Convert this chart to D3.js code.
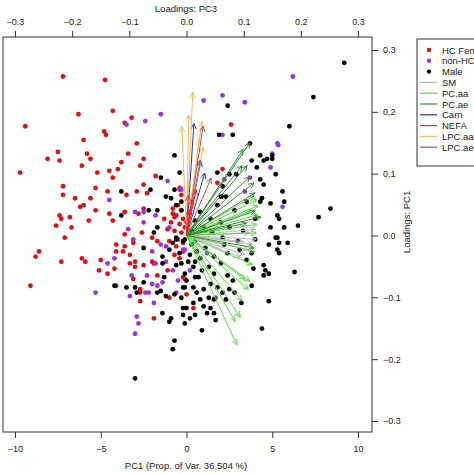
<!DOCTYPE html>
<html><head><meta charset="utf-8">
<script src="https://cdn.jsdelivr.net/npm/d3@7"></script>
<style>body{margin:0;background:#fff;overflow:hidden}text{font-family:"Liberation Sans",Arial,sans-serif}</style>
</head><body><svg id="c" width="474" height="474"></svg>
<script>
const hcFemale=[[-7.2,9.3],[-4.75,9.1],[-9.4,6.4],[-6.3,7.1],[-4.3,7.3],[-3.2,6.9],[-3.6,6.6],[-4.8,6.1],[-4.7,5.9],[-6.0,5.6],[-2.9,5.4],[-7.5,4.9],[-8.1,4.5],[-7.4,4.4],[-5.8,4.8],[-5.6,4.5],[-6.1,4.1],[-3.4,4.8],[-3.8,4.3],[-2.5,4.5],[-2.7,4.1],[-9.7,3.7],[-5.2,3.7],[-4.5,3.8],[-4.0,3.9],[-4.3,3.4],[-7.2,2.9],[-5.3,2.8],[-4.6,2.6],[-7.2,2.4],[-6.5,2.2],[-5.6,2.2],[-3.5,2.4],[-2.9,2.6],[-2.5,3.0],[-2.3,2.5],[-1.8,3.5],[-6.2,1.7],[-6.0,1.8],[-5.3,1.5],[-7.4,1.2],[-7.3,1.0],[-6.8,1.1],[-7.6,0.6],[-6.7,0.5],[-5.7,0.9],[-4.5,1.3],[-4.3,0.9],[-3.6,1.4],[-2.8,1.3],[-2.5,1.6],[-3.6,0.1],[-2.6,0.2],[-7.1,-0.1],[-2.0,-0.1],[-1.3,1.0],[-0.8,1.3],[-0.7,1.1],
[-8.6,-0.9],[-8.8,-1.2],[-7.3,-1.5],[-6.1,-1.3],[-5.9,-1.5],[-5.0,-1.4],[-5.1,-2.0],[-4.6,-2.2],[-4.2,-1.9],[-4.1,-0.5],[-4.1,-0.9],[-3.6,-0.6],[-3.7,-0.9],[-3.3,-1.1],[-3.3,-1.6],[-3.0,-1.5],[-3.0,-1.8],[-3.1,-0.4],[-2.5,-1.7],[-2.0,-1.5],[-1.9,-1.6],[-1.7,-2.3],[-3.1,-2.5],[-2.7,-3.1],[-2.7,-3.3],[-2.7,-3.8],[-1.9,-4.8],[-4.1,-2.9],[-9.1,-2.9],[-1.7,-0.3],[-1.1,-2.0],[-0.7,-1.1],[-1.0,-3.6],[-0.4,-1.3],[-0.1,-2.5],[0.0,-3.4],
[2.6,6.5],[2.1,3.9],[1.8,3.1],[0.4,-4.2],[-0.2,-2.4],
[-0.5,1.8],[-0.3,1.5],[-0.6,1.2],[-0.2,1.0],[-0.4,0.7],[-0.1,0.5],[-0.7,0.3],[-0.3,0.2],[-0.5,-0.2],[-0.2,-0.4],[-0.9,0.8],[-1.1,0.4],[0.1,1.3],[0.0,0.8],[-0.8,1.6],[-0.3,2.4],[-0.6,-0.6],[-1.0,-0.3],[-0.2,-0.9],[-0.4,2.8]];
const nonHcFemale=[[-1.5,7.1],[-2.4,6.7],[-3.5,6.5],[-1.1,3.2],[-0.4,2.7],[-0.3,2.7],[-4.5,2.1],[-3.0,1.4],[-2.5,1.4],[-1.8,1.2],[-2.5,0.8],[-3.4,0.4],[-1.0,0.5],
[-5.3,-3.3],[-4.6,-1.6],[-4.2,-1.3],[-3.1,-0.2],[-3.3,-3.5],[-3.2,-2.3],[-2.9,-4.7],[-2.8,-5.1],[-3.0,-5.7],[-2.4,-3.3],[-2.2,-3.3],[-2.3,-2.3],[-2.0,-0.9],[-1.8,-1.6],[-1.9,-3.9],[-2.0,-2.8],[-1.7,-2.9],[-1.4,-2.7],[-1.5,-0.5],[-1.2,-0.6],[-1.2,-1.5],[-0.6,-3.3],[-0.5,-2.6],[-0.1,-0.8],
[6.2,9.3],[2.1,8.2],[1.0,7.9],[3.4,7.8],[2.1,5.9],[5.3,5.4],[5.35,5.3],[5.0,4.8],[4.9,4.0],[5.6,1.7],[3.7,3.4],[2.2,3.3],[3.4,2.6],[2.1,2.3],
[1.7,-3.6],[-0.2,-0.8],[0.5,-0.3],[1.2,-1.0],[0.2,-2.0],[-0.8,-2.0]];
const male=[[-0.7,4.7],[-0.4,3.7],[-1.5,3.4],[-2.1,2.7],[-3.8,2.6],[-1.2,2.3],[-0.9,2.2],[-0.7,2.7],[-0.3,2.0],[-2.2,1.5],[-1.7,1.5],[-3.8,1.2],[-0.6,1.8],[-0.3,1.5],[-1.7,0.5],[-1.9,0.2],[-0.6,-0.1],
[-2.5,-0.7],[-1.4,-1.2],[-1.4,-1.6],[-1.0,-0.8],[-0.8,-0.4],[-0.6,-0.2],[-0.2,-0.3],[-0.3,-1.6],[-0.6,-1.7],[-1.3,-2.4],[-1.5,-3.2],[-1.7,-3.3],[-1.2,-3.5],[-0.7,-3.4],[-0.3,-3.6],[-0.1,-3.0],[-0.2,-3.0],[-4.2,-2.9],[-3.5,-3.0],[-3.0,-3.0],[-2.9,-3.3],[-2.5,-2.7],[-1.4,-4.5],[-1.0,-5.0],[-0.9,-4.8],[-0.2,-4.2],[-0.2,-4.6],[-0.1,-5.1],[-0.7,-6.1],[-0.8,-6.6],[-3.0,-8.3],[-0.1,-0.2],
[9.2,10.1],[7.4,8.1],[6.0,6.4],[2.4,7.6],[1.9,5.9],[2.7,5.9],[3.7,5.4],[3.8,4.4],[4.1,4.0],[4.3,4.7],[4.5,4.4],[4.7,4.5],[5.0,4.7],[5.0,4.5],[5.2,3.6],[2.5,3.6],[2.9,3.6],[1.8,3.7],[4.3,3.3],[4.5,3.0],[5.6,2.6],[5.7,2.0],[4.9,1.9],[4.3,2.0],[4.4,2.2],[5.3,1.2],[5.4,1.0],[7.7,1.1],[8.4,1.6],[6.5,0.6],[4.9,0.5],[5.7,0.5],[5.2,-0.1],[4.0,1.0],[2.1,2.9],[2.3,2.3],[2.0,2.3],
[4.0,-0.2],[4.8,-0.5],[5.3,-0.1],[5.4,-0.4],[5.9,-0.4],[5.3,-0.8],[5.4,-1.0],[6.3,-2.1],[4.5,-1.7],[4.6,-2.0],[4.5,-2.3],[4.8,-2.2],[3.9,-1.9],[3.8,-2.9],[4.8,-3.8],[4.4,-5.4],[3.2,-3.9],[0.9,-5.5],[1.7,-4.9],[1.6,-4.5],[1.2,-4.5],[1.4,-4.2],[1.0,-4.1],[0.5,-4.6],[0.2,-4.8],[0.8,-3.7],[0.4,-3.9],[0.0,-4.2],[0.6,-3.3],[1.3,-3.6],[1.6,-3.7],[2.3,-3.7],[2.1,-3.3],[2.5,-3.1],[1.8,-3.0],[1.4,-2.8],[1.0,-3.1],[0.4,-3.0],[0.0,-2.6],[0.5,-2.4],[-0.1,-2.2],[0.4,-1.8],[0.1,-1.5],[0.5,-1.5],[2.4,-2.3],[2.7,-2.6],[2.8,-3.3],[2.0,-1.6],[1.6,-1.2],[2.4,-1.0],[2.1,-0.1],[3.1,-0.8],[3.5,-1.4],
[0.3,-0.5],[0.6,-0.9],[0.8,-1.3],[1.1,-0.7],[0.2,-1.1],[-0.4,-1.0],[0.9,-2.0],[1.3,-1.8],[0.7,-2.4],[1.6,-2.2],[0.3,0.3],[0.5,0.9],[1.0,0.5],[1.5,0.2],[0.8,1.4],[1.4,1.0],[2.0,0.8],[2.5,0.5],[3.0,-0.3],[3.3,0.3],[2.8,1.5],[3.5,2.0],[1.8,1.8],[2.2,-0.5],[3.8,-1.0]];
const loadSM=[[0.12,0.01],[0.122,-0.006],[0.115,-0.014],[0.108,-0.023],[0.102,-0.031],[0.094,-0.035],[0.11,0.005],[0.1,-0.01]];
const loadPCaa=[[0.118,0.064],[0.123,0.058],[0.125,0.048],[0.125,0.034],[0.123,0.018],[0.122,0.004],[0.12,-0.026],[0.115,-0.047],[0.111,-0.074],[0.108,-0.087],[0.097,-0.106],[0.094,-0.132],[0.088,-0.177],[0.085,-0.139],[0.102,-0.071],[0.112,0.04]];
const loadPCae=[[0.111,0.15],[0.099,0.139],[0.097,0.113],[0.106,0.113],[0.111,0.095],[0.118,0.085],[0.12,0.069],[0.12,0.04],[0.13,0.03],[0.118,-0.02],[0.105,0.02]];
const loadCarn=[[0.013,0.181],[0.032,0.101],[0.025,0.12]];
const loadNEFA=[[0.017,0.074],[0.01,0.058],[0.006,0.042],[0.003,0.065]];
const loadLPCaa=[[0.011,0.232],[0.004,0.195],[-0.008,0.176],[0.027,0.184],[0.022,0.155],[0.029,0.143]];
const loadLPCae=[[0.029,0.177],[0.043,0.093],[0.024,0.122]];
const scoreTicks=[-10,-5,0,5,10];
const loadTicks=[-0.3,-0.2,-0.1,0.0,0.1,0.2,0.3];
const legendLabels=["HC Females","non-HC Females","Male","SM","PC.aa","PC.ae","Carn","NEFA","LPC.aa","LPC.ae"];

const svg=d3.select("#c");
const L=3,R=372,T=37,B=432;
const x=d3.scaleLinear().domain([-10,10]).range([15,358]);
const y=d3.scaleLinear().domain([0,1]).range([236,236-17.15]);
const lx=d3.scaleLinear().domain([-0.3,0.3]).range([15,358]);
const ly=d3.scaleLinear().domain([-0.3,0.3]).range([421,50]);
const fmt=d=>d3.format(".1f")(d).replace("-","\u2212");
svg.append("rect").attr("x",L).attr("y",T).attr("width",R-L).attr("height",B-T).attr("fill","none").attr("stroke","#333");
const bx=svg.append("g").attr("transform",`translate(0,${B})`).call(d3.axisBottom(x).tickValues(scoreTicks).tickSize(6).tickPadding(8).tickFormat(d=>String(d).replace("-","\u2212")));
const tx=svg.append("g").attr("transform",`translate(0,${T})`).call(d3.axisTop(lx).tickValues(loadTicks).tickSize(6).tickPadding(6).tickFormat(fmt));
const ry=svg.append("g").attr("transform",`translate(${R},0)`).call(d3.axisRight(ly).tickValues(loadTicks).tickSize(6).tickPadding(5).tickFormat(fmt));
[bx,tx,ry].forEach(g=>{g.select(".domain").remove();g.selectAll("text").attr("font-size",9).attr("fill","#222");g.selectAll("line").attr("stroke","#333");});
svg.append("text").attr("x",186).attr("y",12).attr("text-anchor","middle").attr("font-size",9.5).attr("fill","#222").text("Loadings: PC3");
svg.append("text").attr("x",186).attr("y",469).attr("text-anchor","middle").attr("font-size",9.5).attr("fill","#222").text("PC1 (Prop. of Var. 36.504  %)");
svg.append("text").attr("transform","translate(410,222) rotate(-90)").attr("text-anchor","middle").attr("font-size",9.5).attr("fill","#222").text("Loadings: PC1");

const pts=[[hcFemale,"#dd1111"],[nonHcFemale,"#9933dd"],[male,"#000"]];
const gp=svg.append("g");
pts.forEach(([d,c])=>gp.selectAll(null).data(d).enter().append("circle").attr("cx",p=>x(p[0])).attr("cy",p=>y(p[1])).attr("r",2.4).attr("fill",c));

const arrows=[[loadSM,"#b8b8b8"],[loadPCaa,"#55dd44"],[loadPCae,"#338833"],[loadCarn,"#3333aa"],[loadLPCaa,"#eebb66"],[loadLPCae,"#aa5555"],[loadNEFA,"#ee2222"]];
const ga=svg.append("g");
arrows.forEach(([d,c])=>d.forEach(p=>{
  const x0=lx(0),y0=ly(0),x1=lx(p[0]),y1=ly(p[1]);
  const a=Math.atan2(y1-y0,x1-x0),h=6,s=0.45;
  ga.append("path").attr("d",`M${x0},${y0}L${x1},${y1}M${x1-h*Math.cos(a-s)},${y1-h*Math.sin(a-s)}L${x1},${y1}L${x1-h*Math.cos(a+s)},${y1-h*Math.sin(a+s)}`).attr("fill","none").attr("stroke",c).attr("stroke-width",1);
}));

const lg=svg.append("g");
lg.append("rect").attr("x",417).attr("y",39).attr("width",80).attr("height",127).attr("fill","#fff").attr("stroke","#333");
const lcol=["#dd1111","#9933dd","#000","#b8b8b8","#55dd44","#338833","#3333aa","#ee2222","#eebb66","#aa5555"];
legendLabels.forEach((t,i)=>{
  const yy=50+i*10.8;
  if(i<3) lg.append("circle").attr("cx",429).attr("cy",yy).attr("r",2.2).attr("fill",lcol[i]);
  else lg.append("line").attr("x1",420).attr("x2",437).attr("y1",yy).attr("y2",yy).attr("stroke",lcol[i]).attr("stroke-width",1.2);
  lg.append("text").attr("x",442).attr("y",yy+3.5).attr("font-size",9.5).attr("fill","#222").text(t);
});
</script></body></html>
